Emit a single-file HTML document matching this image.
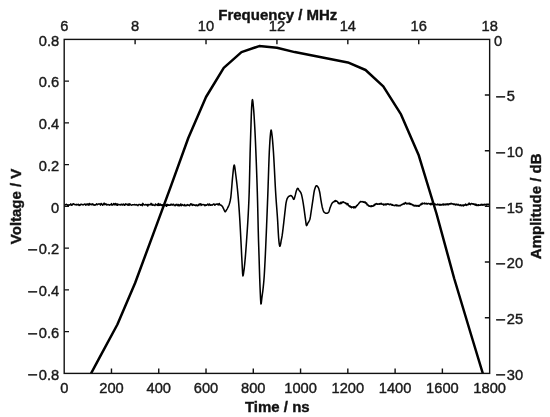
<!DOCTYPE html>
<html><head><meta charset="utf-8"><title>Voltage and amplitude plot</title>
<style>
html,body{margin:0;padding:0;background:#fff;}
body{width:550px;height:417px;overflow:hidden;}
svg{display:block;}
text{font-family:"Liberation Sans",Arial,Helvetica,sans-serif;font-size:14.67px;fill:#1a1a1a;stroke:#1a1a1a;stroke-width:0.4px;}
.b{font-weight:bold;font-size:15px;fill:#111;}
</style></head><body>
<svg width="550" height="417" viewBox="0 0 550 417">
<rect width="550" height="417" fill="#fff"/>
<defs><clipPath id="c"><rect x="64.2" y="39.4" width="425.45" height="334.0"/></clipPath></defs>
<path d="M135.11,39.4 v4.8 M206.02,39.4 v4.8 M276.93,39.4 v4.8 M347.83,39.4 v4.8 M418.74,39.4 v4.8 M111.47,373.4 v-4.8 M158.74,373.4 v-4.8 M206.02,373.4 v-4.8 M253.29,373.4 v-4.8 M300.56,373.4 v-4.8 M347.83,373.4 v-4.8 M395.11,373.4 v-4.8 M442.38,373.4 v-4.8 M64.2,81.15 h4.8 M64.2,122.90 h4.8 M64.2,164.65 h4.8 M64.2,206.40 h4.8 M64.2,248.15 h4.8 M64.2,289.90 h4.8 M64.2,331.65 h4.8 M489.65,95.07 h-4.8 M489.65,150.73 h-4.8 M489.65,206.40 h-4.8 M489.65,262.07 h-4.8 M489.65,317.73 h-4.8" stroke="#111" stroke-width="1.4" fill="none"/>
<g clip-path="url(#c)"><path d="M81.93,390.50 L99.65,357.40 L117.38,324.50 L135.11,283.00 L152.84,235.10 L170.56,187.10 L188.29,138.00 L206.02,97.00 L223.74,67.90 L241.47,52.10 L259.20,46.10 L276.93,47.70 L294.65,52.10 L312.38,55.50 L330.11,59.00 L347.83,62.40 L365.56,70.00 L383.29,86.30 L401.01,114.40 L418.74,155.30 L436.47,213.50 L454.20,278.50 L471.92,337.50 L489.65,396.00" stroke="#000" stroke-width="2.5" fill="none" stroke-linejoin="round"/>
<path d="M64.20,204.66 L64.75,205.04 L65.30,204.66 L65.85,204.61 L66.40,204.30 L66.95,204.65 L67.50,205.31 L68.05,204.96 L68.60,205.26 L69.15,204.86 L69.70,204.93 L70.25,204.81 L70.80,203.88 L71.35,205.14 L71.90,204.96 L72.45,204.95 L73.00,203.85 L73.55,203.81 L74.10,204.24 L74.65,204.44 L75.20,204.82 L75.75,204.64 L76.30,204.92 L76.85,204.33 L77.40,204.80 L77.95,204.84 L78.50,204.30 L79.05,205.49 L79.60,204.90 L80.15,205.21 L80.70,204.30 L81.25,204.23 L81.80,204.43 L82.35,204.54 L82.90,204.90 L83.45,204.71 L84.00,204.35 L84.55,204.09 L85.10,204.31 L85.65,205.17 L86.20,204.15 L86.75,204.68 L87.30,204.76 L87.85,203.80 L88.40,204.56 L88.95,205.19 L89.50,203.52 L90.05,204.36 L90.60,204.47 L91.15,204.11 L91.70,204.76 L92.25,204.48 L92.80,203.77 L93.35,204.92 L93.90,204.83 L94.45,204.97 L95.00,205.21 L95.55,204.67 L96.10,204.54 L96.65,203.83 L97.20,204.79 L97.75,204.17 L98.30,204.25 L98.85,203.84 L99.40,203.99 L99.95,204.20 L100.50,205.11 L101.05,203.45 L101.60,203.73 L102.15,204.58 L102.70,205.18 L103.25,204.75 L103.80,203.50 L104.35,203.19 L104.90,204.63 L105.45,204.08 L106.00,203.89 L106.55,204.94 L107.10,205.00 L107.65,204.53 L108.20,204.57 L108.75,204.67 L109.30,205.25 L109.85,204.76 L110.40,204.71 L110.95,204.73 L111.50,203.67 L112.05,205.09 L112.60,204.93 L113.15,204.72 L113.70,203.47 L114.25,204.14 L114.80,204.88 L115.35,203.56 L115.90,204.37 L116.45,204.97 L117.00,203.81 L117.55,205.27 L118.10,204.75 L118.65,204.40 L119.20,204.64 L119.75,204.80 L120.30,204.54 L120.85,205.06 L121.40,204.16 L121.95,204.28 L122.50,205.02 L123.05,204.51 L123.60,204.06 L124.15,204.98 L124.70,205.24 L125.25,204.29 L125.80,203.83 L126.35,204.46 L126.90,204.45 L127.45,204.38 L128.00,205.24 L128.55,204.03 L129.10,205.18 L129.65,203.92 L130.20,204.16 L130.75,204.87 L131.30,205.13 L131.85,205.00 L132.40,204.75 L132.95,204.65 L133.50,204.66 L134.05,204.88 L134.60,204.51 L135.15,204.74 L135.70,204.89 L136.25,204.61 L136.80,205.00 L137.35,204.91 L137.90,205.63 L138.45,204.80 L139.00,204.43 L139.55,204.46 L140.10,204.65 L140.65,205.12 L141.20,204.50 L141.75,204.86 L142.30,205.59 L142.85,203.40 L143.40,204.13 L143.95,204.82 L144.50,204.90 L145.05,204.83 L145.60,204.50 L146.15,205.05 L146.70,204.86 L147.25,204.47 L147.80,205.95 L148.35,204.92 L148.90,204.47 L149.45,204.70 L150.00,204.65 L150.55,204.73 L151.10,203.41 L151.65,204.53 L152.20,205.29 L152.75,204.20 L153.30,204.76 L153.85,205.28 L154.40,205.23 L154.95,205.56 L155.50,203.96 L156.05,204.64 L156.60,204.65 L157.15,205.14 L157.70,205.38 L158.25,203.50 L158.80,205.39 L159.35,204.13 L159.90,205.20 L160.45,204.11 L161.00,204.95 L161.55,205.47 L162.10,204.80 L162.65,204.97 L163.20,205.28 L163.75,204.96 L164.30,204.85 L164.85,205.66 L165.40,205.42 L165.95,204.75 L166.50,206.28 L167.05,204.33 L167.60,205.37 L168.15,204.78 L168.70,204.98 L169.25,205.27 L169.80,205.03 L170.35,205.24 L170.90,204.16 L171.45,204.18 L172.00,205.24 L172.55,204.45 L173.10,204.42 L173.65,204.20 L174.20,205.57 L174.75,205.32 L175.30,205.68 L175.85,204.48 L176.40,204.95 L176.95,204.38 L177.50,205.33 L178.05,205.74 L178.60,204.50 L179.15,205.73 L179.70,205.44 L180.25,204.86 L180.80,203.96 L181.35,205.65 L181.90,204.90 L182.45,204.65 L183.00,205.15 L183.55,205.15 L184.10,205.70 L184.65,204.44 L185.20,205.51 L185.75,205.69 L186.30,205.67 L186.85,204.85 L187.40,204.57 L187.95,205.45 L188.50,204.99 L189.05,205.00 L189.60,205.64 L190.15,204.80 L190.70,203.78 L191.25,204.73 L191.80,203.99 L192.35,205.33 L192.90,205.07 L193.45,204.61 L194.00,204.90 L194.55,205.32 L195.10,204.94 L195.65,205.56 L196.20,204.86 L196.75,205.41 L197.30,205.63 L197.85,205.69 L198.40,204.54 L198.95,205.31 L199.50,203.93 L200.05,204.32 L200.60,203.88 L201.15,205.39 L201.70,204.24 L202.25,204.84 L202.80,204.75 L203.35,204.82 L203.90,204.54 L204.45,204.94 L205.00,205.72 L205.55,204.84 L206.10,205.08 L206.65,205.31 L207.20,204.70 L207.75,204.17 L208.30,204.51 L208.85,205.32 L209.40,203.96 L209.95,204.47 L210.50,205.27 L211.05,205.16 L211.60,204.76 L212.15,205.15 L212.70,204.83 L213.25,204.15 L213.80,203.95 L214.35,204.41 L214.90,205.18 L215.45,204.43 L216.00,204.26 L216.55,204.32 L217.10,203.93 L217.65,204.63 L218.20,204.09 L218.75,204.86 L219.30,203.49 L219.50,204.70 L219.80,204.74 L220.10,204.82 L220.40,204.92 L220.70,205.04 L221.00,205.20 L221.30,205.39 L221.60,205.63 L221.90,205.90 L222.20,206.23 L222.50,206.68 L222.80,207.22 L223.10,207.80 L223.40,208.40 L223.70,209.02 L224.00,209.73 L224.30,210.41 L224.60,210.98 L224.90,211.53 L225.20,211.80 L225.50,211.56 L225.80,211.04 L226.10,210.55 L226.40,210.09 L226.70,209.61 L227.00,209.11 L227.30,208.58 L227.60,208.01 L227.90,207.43 L228.20,206.82 L228.50,206.18 L228.80,205.47 L229.10,204.69 L229.40,203.80 L229.70,202.79 L230.00,201.61 L230.30,200.22 L230.60,198.57 L230.90,196.54 L231.20,193.45 L231.50,190.00 L231.80,186.47 L232.10,182.72 L232.40,179.10 L232.70,176.00 L233.00,173.11 L233.30,170.17 L233.60,167.56 L233.90,165.71 L234.20,165.00 L234.50,165.59 L234.80,167.13 L235.10,169.31 L235.40,171.79 L235.70,174.24 L236.00,176.50 L236.30,178.86 L236.60,181.36 L236.90,184.00 L237.20,186.79 L237.50,189.74 L237.80,192.84 L238.10,196.11 L238.40,199.66 L238.70,203.48 L239.00,207.57 L239.30,211.89 L239.60,216.44 L239.90,221.28 L240.20,226.63 L240.50,232.30 L240.80,238.09 L241.10,243.93 L241.40,250.08 L241.70,256.18 L242.00,261.80 L242.30,267.82 L242.60,273.49 L242.90,276.00 L243.20,275.31 L243.50,273.62 L243.80,271.44 L244.10,269.28 L244.40,266.77 L244.70,263.86 L245.00,260.74 L245.30,257.36 L245.60,253.73 L245.90,249.86 L246.20,245.77 L246.50,241.47 L246.80,237.06 L247.10,232.68 L247.40,228.23 L247.70,223.55 L248.00,218.53 L248.30,213.03 L248.60,206.92 L248.90,200.06 L249.20,192.07 L249.50,180.47 L249.80,166.79 L250.10,153.74 L250.40,143.27 L250.70,133.98 L251.00,124.88 L251.30,115.21 L251.60,108.00 L251.90,103.48 L252.20,100.24 L252.50,99.62 L252.80,101.20 L253.10,103.94 L253.40,107.00 L253.70,110.39 L254.00,114.54 L254.30,119.28 L254.60,124.43 L254.90,129.86 L255.20,135.99 L255.50,142.79 L255.80,150.00 L256.10,157.46 L256.40,165.23 L256.70,173.44 L257.00,182.22 L257.30,191.67 L257.60,202.43 L257.90,215.25 L258.20,228.40 L258.50,240.00 L258.80,249.08 L259.10,258.26 L259.40,268.58 L259.70,277.96 L260.00,286.34 L260.30,293.15 L260.60,299.66 L260.90,303.86 L261.20,303.61 L261.50,301.20 L261.80,298.31 L262.10,296.08 L262.40,294.01 L262.70,291.81 L263.00,289.31 L263.30,286.61 L263.60,283.63 L263.90,280.24 L264.20,276.22 L264.50,271.31 L264.80,265.82 L265.10,260.04 L265.40,253.73 L265.70,246.96 L266.00,240.00 L266.30,232.92 L266.60,225.66 L266.90,218.23 L267.20,210.63 L267.50,202.89 L267.80,195.00 L268.10,186.49 L268.40,177.29 L268.70,168.06 L269.00,159.43 L269.30,152.06 L269.60,146.22 L269.90,141.15 L270.20,137.08 L270.50,133.93 L270.80,131.19 L271.10,130.00 L271.40,130.81 L271.70,132.72 L272.00,135.00 L272.30,137.60 L272.60,140.86 L272.90,144.60 L273.20,148.63 L273.50,152.92 L273.80,157.83 L274.10,163.25 L274.40,168.99 L274.70,174.89 L275.00,180.76 L275.30,186.44 L275.60,191.75 L275.90,196.53 L276.20,200.84 L276.50,204.87 L276.80,208.78 L277.10,212.76 L277.40,216.98 L277.70,221.65 L278.00,227.24 L278.30,232.90 L278.60,237.50 L278.90,241.02 L279.20,243.71 L279.50,245.25 L279.80,246.22 L280.10,246.01 L280.40,244.90 L280.70,243.53 L281.00,241.68 L281.30,239.98 L281.60,238.56 L281.90,237.07 L282.20,235.22 L282.50,233.04 L282.80,230.69 L283.10,228.27 L283.40,225.70 L283.70,223.05 L284.00,220.38 L284.30,217.73 L284.60,215.06 L284.90,212.41 L285.20,209.84 L285.50,207.16 L285.80,204.64 L286.10,202.70 L286.40,201.30 L286.70,200.10 L287.00,199.13 L287.30,198.40 L287.60,197.84 L287.90,197.36 L288.20,196.96 L288.50,196.65 L288.80,196.43 L289.10,196.25 L289.40,196.07 L289.70,195.92 L290.00,195.79 L290.30,195.69 L290.60,195.62 L290.90,195.60 L291.20,195.68 L291.50,195.89 L291.80,196.19 L292.10,196.54 L292.40,196.90 L292.70,197.41 L293.00,198.11 L293.30,198.81 L293.60,199.29 L293.90,199.36 L294.20,198.85 L294.50,197.94 L294.80,196.88 L295.10,195.86 L295.40,194.67 L295.70,193.35 L296.00,192.09 L296.30,191.10 L296.60,190.28 L296.90,189.48 L297.20,188.81 L297.50,188.39 L297.80,188.32 L298.10,188.55 L298.40,188.99 L298.70,189.53 L299.00,190.08 L299.30,190.54 L299.60,190.94 L299.90,191.33 L300.20,191.72 L300.50,192.16 L300.80,192.68 L301.10,193.30 L301.40,194.16 L301.70,195.30 L302.00,196.64 L302.30,198.10 L302.60,199.61 L302.90,201.29 L303.20,203.14 L303.50,205.11 L303.80,207.14 L304.10,209.19 L304.40,211.37 L304.70,213.64 L305.00,215.93 L305.30,218.13 L305.60,220.21 L305.90,222.60 L306.20,224.70 L306.50,225.60 L306.80,225.40 L307.10,224.89 L307.40,224.21 L307.70,223.51 L308.00,222.92 L308.30,222.43 L308.60,221.96 L308.90,221.47 L309.20,220.93 L309.50,220.29 L309.80,219.50 L310.10,218.32 L310.40,216.67 L310.70,214.73 L311.00,212.68 L311.30,210.70 L311.60,208.75 L311.90,206.72 L312.20,204.65 L312.50,202.61 L312.80,200.64 L313.10,198.57 L313.40,196.43 L313.70,194.34 L314.00,192.43 L314.30,190.81 L314.60,189.60 L314.90,188.65 L315.20,187.74 L315.50,186.93 L315.80,186.29 L316.10,185.86 L316.40,185.70 L316.70,185.76 L317.00,185.94 L317.30,186.21 L317.60,186.54 L317.90,186.93 L318.20,187.35 L318.50,187.98 L318.80,188.83 L319.10,189.85 L319.40,190.99 L319.70,192.25 L320.00,193.91 L320.30,195.89 L320.60,197.97 L320.90,199.92 L321.20,201.63 L321.50,203.33 L321.80,204.97 L322.10,206.47 L322.40,207.74 L322.70,208.78 L323.00,209.77 L323.30,210.67 L323.60,211.42 L323.90,211.97 L324.20,212.28 L324.50,212.51 L324.80,212.71 L325.10,212.89 L325.40,213.04 L325.70,213.16 L326.00,213.24 L326.30,213.29 L326.60,213.30 L326.90,213.26 L327.20,213.17 L327.50,213.05 L327.80,212.90 L328.10,212.71 L328.40,212.50 L328.70,212.08 L329.00,211.34 L329.30,210.40 L329.60,209.36 L329.90,208.36 L330.20,207.50 L330.50,206.73 L330.80,205.95 L331.10,205.18 L331.40,204.47 L331.70,203.84 L332.00,203.34 L332.30,202.95 L332.60,202.61 L332.90,202.30 L333.20,202.04 L333.50,201.84 L333.80,201.70 L334.10,201.70 L334.40,201.32 L334.70,200.85 L335.00,201.57 L335.30,201.21 L335.60,200.56 L335.90,200.92 L336.20,201.23 L336.50,200.98 L336.80,201.34 L337.10,201.34 L337.40,201.57 L337.70,201.94 L338.00,202.79 L338.30,203.13 L338.60,203.47 L338.90,202.87 L339.20,203.74 L339.50,203.80 L339.80,203.22 L340.10,203.05 L340.40,203.64 L340.70,202.41 L341.00,202.96 L341.30,203.38 L341.60,202.20 L341.90,202.51 L342.20,202.71 L342.50,202.00 L342.80,202.17 L343.10,202.30 L343.40,201.83 L343.70,202.19 L344.00,202.45 L344.30,202.78 L344.60,202.69 L344.90,202.82 L345.20,202.74 L345.50,203.09 L345.80,203.60 L346.10,203.49 L346.40,203.33 L346.70,203.47 L347.00,204.66 L347.30,204.36 L347.60,204.39 L347.90,203.66 L348.20,204.93 L348.50,205.23 L348.80,205.96 L349.10,205.93 L349.40,206.08 L349.70,206.50 L350.00,205.92 L350.30,206.97 L350.60,206.91 L350.90,206.74 L351.20,207.46 L351.50,207.68 L351.80,206.77 L352.10,207.00 L352.40,207.29 L352.70,207.26 L353.00,207.08 L353.30,206.91 L353.60,207.84 L353.90,207.51 L354.20,206.84 L354.50,206.80 L354.80,207.71 L355.10,207.47 L355.40,207.62 L355.70,207.14 L356.00,206.40 L356.30,206.46 L356.60,205.44 L356.90,205.57 L357.20,205.48 L357.50,205.30 L357.80,204.51 L358.10,204.24 L358.40,203.95 L358.70,203.50 L359.00,203.19 L359.30,202.76 L359.60,202.35 L359.90,202.43 L360.20,201.98 L360.50,201.55 L360.80,201.52 L361.10,201.70 L361.40,201.68 L361.70,201.78 L362.00,201.76 L362.30,201.84 L362.60,201.79 L362.90,201.50 L363.20,202.06 L363.50,202.30 L363.80,202.18 L364.10,202.05 L364.40,202.31 L364.70,201.97 L365.00,201.84 L365.30,202.62 L365.60,202.56 L365.90,203.34 L366.20,203.10 L366.50,202.95 L366.80,203.75 L367.10,204.86 L367.40,204.57 L367.70,204.56 L368.00,205.00 L368.30,205.59 L368.60,205.75 L368.90,205.75 L369.20,206.21 L369.50,206.04 L369.80,205.88 L370.10,206.12 L370.40,206.49 L370.70,206.32 L371.00,206.37 L371.30,205.76 L371.60,206.05 L371.90,206.32 L372.20,205.96 L372.50,206.27 L372.80,205.99 L373.10,205.91 L373.40,205.38 L373.70,205.99 L374.00,205.37 L374.30,204.71 L374.60,204.59 L374.90,205.14 L375.20,204.09 L375.50,204.31 L375.80,204.25 L376.10,203.91 L376.40,203.55 L376.70,203.96 L377.00,204.01 L377.30,204.24 L377.60,204.13 L377.90,203.91 L378.20,204.16 L378.50,204.06 L378.80,203.96 L379.10,203.92 L379.40,203.83 L379.70,204.11 L380.00,203.58 L380.30,203.71 L380.60,203.90 L380.90,203.48 L381.20,203.82 L381.50,203.39 L381.80,203.84 L382.10,204.28 L382.40,204.35 L382.70,204.23 L383.00,204.25 L383.30,203.96 L383.60,205.00 L383.90,204.66 L384.20,204.88 L384.50,204.32 L384.80,204.54 L385.10,204.05 L385.40,204.82 L385.70,204.85 L386.00,203.97 L386.30,204.49 L386.60,204.66 L386.90,203.90 L387.20,203.84 L387.50,204.03 L387.80,204.12 L388.10,203.85 L388.40,204.25 L388.70,204.30 L389.00,204.40 L389.30,204.41 L389.60,204.67 L389.90,204.61 L390.20,203.93 L390.50,204.26 L390.80,204.19 L391.10,204.29 L391.40,204.71 L391.70,204.85 L392.00,205.12 L392.30,204.60 L392.60,204.81 L392.90,205.26 L393.20,205.28 L393.50,205.30 L393.80,205.40 L394.10,205.22 L394.40,205.68 L394.70,205.60 L395.00,205.49 L395.30,205.34 L395.60,205.51 L395.90,204.76 L396.20,205.30 L396.50,205.62 L396.80,205.18 L397.10,205.70 L397.40,205.70 L397.70,205.25 L398.00,205.60 L398.30,205.59 L398.60,205.83 L398.90,205.88 L399.20,205.69 L399.50,205.44 L399.80,205.64 L400.10,205.61 L400.40,205.76 L400.70,205.51 L401.00,205.07 L401.30,204.72 L401.60,204.84 L401.90,204.55 L402.20,204.25 L402.50,204.35 L402.80,204.05 L403.10,204.04 L403.40,203.99 L403.70,203.54 L404.00,204.22 L404.30,203.30 L404.60,203.63 L404.90,203.27 L405.20,203.54 L405.50,202.49 L405.80,202.98 L406.10,203.29 L406.40,203.42 L406.70,203.96 L407.00,203.38 L407.30,203.69 L407.60,203.57 L407.90,203.66 L408.20,203.56 L408.50,203.40 L408.80,203.64 L409.10,203.21 L409.40,203.93 L409.70,203.31 L410.00,203.75 L410.30,204.40 L410.60,203.79 L410.90,203.98 L411.20,204.45 L411.50,204.25 L411.80,204.14 L412.10,204.61 L412.40,204.86 L412.70,205.04 L413.00,204.74 L413.30,205.64 L413.60,205.75 L413.90,205.37 L414.20,205.55 L414.50,205.43 L414.80,206.05 L415.10,205.46 L415.40,205.90 L415.70,205.56 L416.00,205.49 L416.30,205.92 L416.60,206.10 L416.90,205.70 L417.20,205.50 L417.50,205.94 L417.80,205.69 L418.10,205.79 L418.40,206.16 L418.70,206.01 L419.00,205.43 L419.30,206.15 L419.60,205.30 L419.90,205.35 L420.20,204.71 L420.50,204.67 L420.80,203.94 L421.10,204.79 L421.40,204.47 L421.70,203.52 L422.00,203.30 L422.30,203.16 L422.60,203.96 L422.90,203.46 L423.20,203.58 L423.50,203.51 L423.80,203.57 L424.10,203.28 L424.40,203.62 L424.70,203.19 L425.00,203.60 L425.30,203.72 L425.60,203.78 L425.90,203.58 L426.20,203.38 L426.50,203.71 L426.80,203.53 L427.10,204.15 L427.40,203.92 L427.70,203.67 L428.00,203.58 L428.30,203.52 L428.60,203.46 L428.90,203.65 L429.20,203.85 L429.50,203.93 L429.80,203.96 L430.10,204.43 L430.40,203.61 L430.70,203.85 L431.00,204.72 L431.30,203.35 L431.60,203.79 L431.90,204.04 L432.20,204.08 L432.50,204.20 L432.80,204.05 L433.10,204.28 L433.40,204.24 L433.70,204.50 L434.00,203.75 L434.30,204.10 L434.60,204.41 L434.90,204.14 L435.20,204.17 L435.50,204.71 L435.80,204.35 L436.10,204.76 L436.40,204.81 L436.70,204.69 L437.00,204.75 L437.30,204.57 L437.60,204.18 L437.90,204.59 L438.20,204.74 L438.50,204.44 L438.80,204.57 L439.10,204.82 L439.40,204.34 L439.70,204.79 L440.00,205.16 L440.30,204.43 L440.60,204.64 L440.90,204.55 L441.20,205.06 L441.50,204.69 L441.80,204.87 L442.10,204.39 L442.40,204.60 L442.70,204.60 L443.00,204.07 L443.30,205.03 L443.60,204.87 L443.90,204.08 L444.20,204.82 L444.50,204.55 L444.80,204.71 L445.10,204.66 L445.40,204.07 L445.70,204.42 L446.00,204.89 L446.30,204.23 L446.60,204.05 L446.90,203.90 L447.20,203.89 L447.50,204.31 L447.80,204.67 L448.10,204.24 L448.40,204.13 L448.70,204.68 L449.00,203.81 L449.30,203.73 L449.60,204.05 L449.90,204.03 L450.20,203.53 L450.50,203.47 L450.80,203.89 L451.10,203.87 L451.40,203.41 L451.70,203.76 L452.00,203.68 L452.30,204.01 L452.60,203.87 L452.90,203.92 L453.20,203.89 L453.50,204.36 L453.80,204.52 L454.10,204.05 L454.40,204.47 L454.70,204.05 L455.00,204.35 L455.30,204.61 L455.60,204.89 L455.90,204.37 L456.20,204.51 L456.50,204.64 L456.80,204.19 L457.10,204.70 L457.40,204.56 L457.70,204.93 L458.00,204.55 L458.30,204.36 L458.60,205.03 L458.90,205.15 L459.20,204.97 L459.50,205.46 L459.80,205.16 L460.10,205.10 L460.40,205.47 L460.70,204.89 L461.00,205.18 L461.30,205.39 L461.60,205.65 L461.90,205.35 L462.20,205.47 L462.50,205.16 L462.80,205.41 L463.10,205.78 L463.40,205.02 L463.70,205.88 L464.00,204.92 L464.30,205.06 L464.60,205.04 L464.90,205.23 L465.20,204.48 L465.50,204.16 L465.80,204.91 L466.10,204.90 L466.40,204.79 L466.70,205.34 L467.00,204.56 L467.30,204.53 L467.60,204.68 L467.90,204.46 L468.20,204.79 L468.50,203.87 L468.80,204.07 L469.10,203.09 L469.40,204.32 L469.70,203.91 L470.00,204.25 L470.30,204.58 L470.60,203.89 L470.90,203.78 L471.20,203.68 L471.50,203.56 L471.80,203.61 L472.10,203.99 L472.40,203.83 L472.70,203.87 L473.00,203.84 L473.30,204.23 L473.60,204.17 L473.90,204.06 L474.20,204.39 L474.50,204.24 L474.80,204.04 L475.10,204.92 L475.40,204.72 L475.70,204.39 L476.00,205.10 L476.30,204.97 L476.60,204.48 L476.90,205.51 L477.20,205.19 L477.50,205.41 L477.80,205.23 L478.10,205.15 L478.40,204.74 L478.70,205.48 L479.00,205.19 L479.30,205.07 L479.60,205.23 L479.90,205.11 L480.20,205.25 L480.50,204.89 L480.80,204.95 L481.10,204.27 L481.40,204.73 L481.70,205.01 L482.00,205.16 L482.30,204.60 L482.60,204.63 L482.90,205.10 L483.20,204.49 L483.50,204.78 L483.80,205.03 L484.10,204.52 L484.40,204.87 L484.70,204.29 L485.00,204.56 L485.30,204.48 L485.60,204.54 L485.90,204.84 L486.20,205.22 L486.50,204.31 L486.80,204.34 L487.10,204.66 L487.40,204.20 L487.70,204.67 L488.00,204.70 L488.30,204.46 L488.60,204.71 L488.90,204.10 L489.20,204.80 L489.50,204.13" stroke="#000" stroke-width="1.55" fill="none" stroke-linejoin="round"/></g>
<rect x="64.2" y="39.4" width="425.45" height="334.00" stroke="#111" stroke-width="1.4" fill="none"/>
<text transform="translate(64.20,31.10) scale(1,1.04)" text-anchor="middle">6</text><text transform="translate(135.11,31.10) scale(1,1.04)" text-anchor="middle">8</text><text transform="translate(206.02,31.10) scale(1,1.04)" text-anchor="middle">10</text><text transform="translate(276.93,31.10) scale(1,1.04)" text-anchor="middle">12</text><text transform="translate(347.83,31.10) scale(1,1.04)" text-anchor="middle">14</text><text transform="translate(418.74,31.10) scale(1,1.04)" text-anchor="middle">16</text><text transform="translate(489.65,31.10) scale(1,1.04)" text-anchor="middle">18</text>
<text transform="translate(64.20,393.10) scale(1,1.04)" text-anchor="middle">0</text><text transform="translate(111.47,393.10) scale(1,1.04)" text-anchor="middle">200</text><text transform="translate(158.74,393.10) scale(1,1.04)" text-anchor="middle">400</text><text transform="translate(206.02,393.10) scale(1,1.04)" text-anchor="middle">600</text><text transform="translate(253.29,393.10) scale(1,1.04)" text-anchor="middle">800</text><text transform="translate(300.56,393.10) scale(1,1.04)" text-anchor="middle">1000</text><text transform="translate(347.83,393.10) scale(1,1.04)" text-anchor="middle">1200</text><text transform="translate(395.11,393.10) scale(1,1.04)" text-anchor="middle">1400</text><text transform="translate(442.38,393.10) scale(1,1.04)" text-anchor="middle">1600</text><text transform="translate(489.65,393.10) scale(1,1.04)" text-anchor="middle">1800</text>
<text transform="translate(59.20,45.60) scale(1,1.04)" text-anchor="end">0.8</text><text transform="translate(59.20,87.35) scale(1,1.04)" text-anchor="end">0.6</text><text transform="translate(59.20,129.10) scale(1,1.04)" text-anchor="end">0.4</text><text transform="translate(59.20,170.85) scale(1,1.04)" text-anchor="end">0.2</text><text transform="translate(59.20,212.60) scale(1,1.04)" text-anchor="end">0</text><text transform="translate(0,254.35) scale(1,1.04)"><tspan x="27.6" dy="0.7" textLength="10.28" lengthAdjust="spacingAndGlyphs">−</tspan><tspan x="59.2" dy="-0.7" text-anchor="end">0.2</tspan></text><text transform="translate(0,296.10) scale(1,1.04)"><tspan x="27.6" dy="0.7" textLength="10.28" lengthAdjust="spacingAndGlyphs">−</tspan><tspan x="59.2" dy="-0.7" text-anchor="end">0.4</tspan></text><text transform="translate(0,337.85) scale(1,1.04)"><tspan x="27.6" dy="0.7" textLength="10.28" lengthAdjust="spacingAndGlyphs">−</tspan><tspan x="59.2" dy="-0.7" text-anchor="end">0.6</tspan></text><text transform="translate(0,379.60) scale(1,1.04)"><tspan x="27.6" dy="0.7" textLength="10.28" lengthAdjust="spacingAndGlyphs">−</tspan><tspan x="59.2" dy="-0.7" text-anchor="end">0.8</tspan></text>
<text transform="translate(494.00,45.60) scale(1,1.04)">0</text><text transform="translate(0,101.27) scale(1,1.04)"><tspan x="495.4" dy="0.7" textLength="10.28" lengthAdjust="spacingAndGlyphs">−</tspan><tspan x="506.8" dy="-0.7">5</tspan></text><text transform="translate(0,156.93) scale(1,1.04)"><tspan x="495.4" dy="0.7" textLength="10.28" lengthAdjust="spacingAndGlyphs">−</tspan><tspan x="506.8" dy="-0.7">10</tspan></text><text transform="translate(0,212.60) scale(1,1.04)"><tspan x="495.4" dy="0.7" textLength="10.28" lengthAdjust="spacingAndGlyphs">−</tspan><tspan x="506.8" dy="-0.7">15</tspan></text><text transform="translate(0,268.27) scale(1,1.04)"><tspan x="495.4" dy="0.7" textLength="10.28" lengthAdjust="spacingAndGlyphs">−</tspan><tspan x="506.8" dy="-0.7">20</tspan></text><text transform="translate(0,323.93) scale(1,1.04)"><tspan x="495.4" dy="0.7" textLength="10.28" lengthAdjust="spacingAndGlyphs">−</tspan><tspan x="506.8" dy="-0.7">25</tspan></text><text transform="translate(0,379.60) scale(1,1.04)"><tspan x="495.4" dy="0.7" textLength="10.28" lengthAdjust="spacingAndGlyphs">−</tspan><tspan x="506.8" dy="-0.7">30</tspan></text>
<text class="b" transform="translate(277.80,20.00) scale(1,1.02)" text-anchor="middle">Frequency / MHz</text>
<text class="b" transform="translate(277.30,412.30) scale(1,1.02)" text-anchor="middle">Time / ns</text>
<text class="b" transform="translate(20.80,206.40) rotate(-90) scale(1,1.02)" text-anchor="middle">Voltage / V</text>
<text class="b" transform="translate(541.00,206.30) rotate(-90) scale(1,1.02)" text-anchor="middle">Amplitude / dB</text>
</svg></body></html>
